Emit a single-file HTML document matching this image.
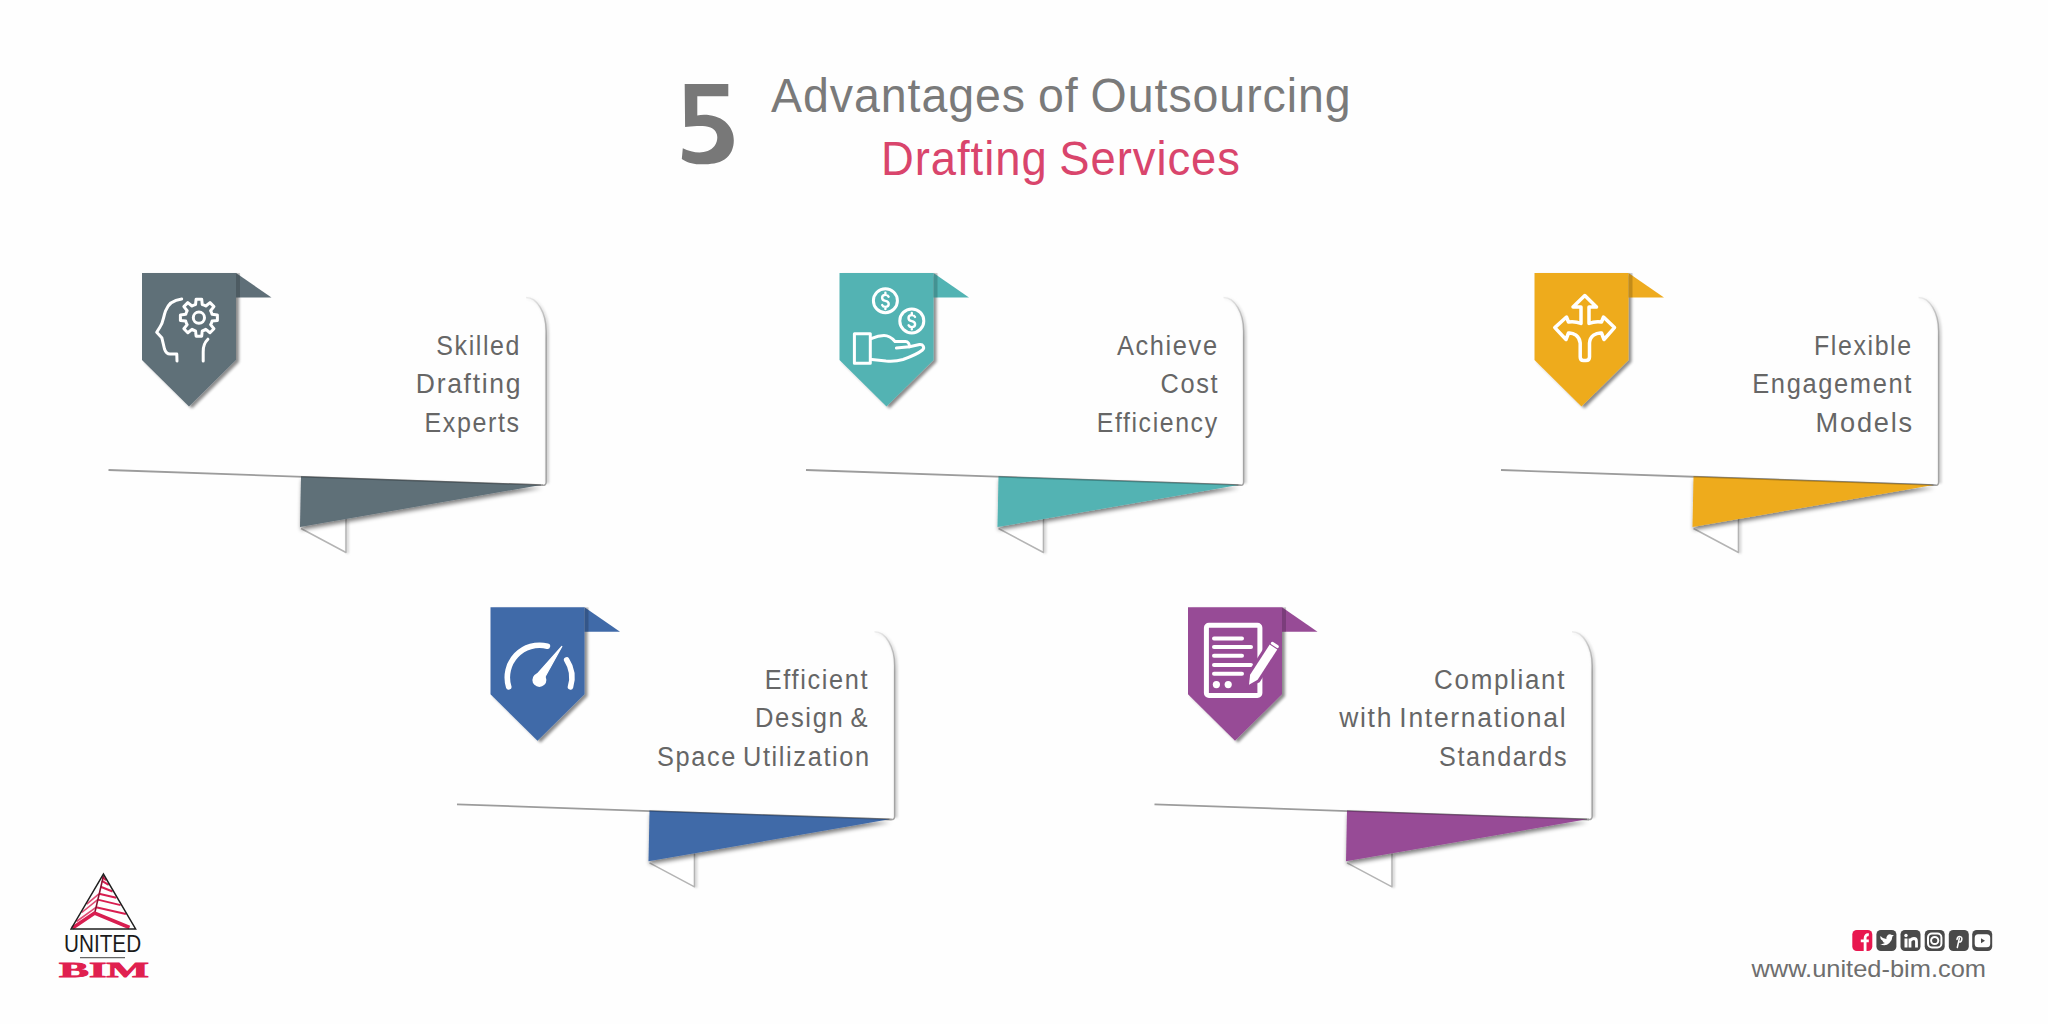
<!DOCTYPE html>
<html><head><meta charset="utf-8"><style>
html,body{margin:0;padding:0;background:#fefefe;width:2048px;height:1024px;overflow:hidden}
svg{display:block}
</style></head><body>
<svg width="2048" height="1024" viewBox="0 0 2048 1024">
<rect width="2048" height="1024" fill="#fefefe"/>
<defs>
<filter id="shadowBR" x="-20%" y="-20%" width="150%" height="150%">
<feGaussianBlur in="SourceAlpha" stdDeviation="1.8"/><feOffset dx="2.5" dy="2.3" result="o"/>
<feComponentTransfer><feFuncA type="linear" slope="0.45"/></feComponentTransfer>
<feMerge><feMergeNode/><feMergeNode in="SourceGraphic"/></feMerge></filter>
<filter id="shadowDown" x="-20%" y="-20%" width="150%" height="180%">
<feGaussianBlur in="SourceAlpha" stdDeviation="2"/><feOffset dx="0.5" dy="3" result="o"/>
<feComponentTransfer><feFuncA type="linear" slope="0.5"/></feComponentTransfer>
<feMerge><feMergeNode/><feMergeNode in="SourceGraphic"/></feMerge></filter>
<filter id="blur1" x="-50%" y="-50%" width="200%" height="200%"><feGaussianBlur stdDeviation="1"/></filter>
<filter id="blurU" filterUnits="userSpaceOnUse" x="-100" y="-100" width="2300" height="1300"><feGaussianBlur stdDeviation="1.1"/></filter>
<linearGradient id="arcGrad" gradientUnits="userSpaceOnUse" x1="524" y1="297" x2="546" y2="338">
<stop offset="0" stop-color="#f0f0f0"/><stop offset="0.45" stop-color="#c4c4c4"/><stop offset="1" stop-color="#a4a4a4"/></linearGradient>
<linearGradient id="haloGrad" gradientUnits="userSpaceOnUse" x1="524" y1="297" x2="546" y2="338">
<stop offset="0" stop-color="#fafafa"/><stop offset="1" stop-color="#cfcfcf"/></linearGradient>
</defs>
<path d="M684.7 84 L728.3 84 L728.3 96.2 L697.3 96.2 L697.3 115.4 C706 113.5 718 115.5 725 121.5 C731.5 127 733.8 134 733.8 140.5 C733.8 148 731 155 724.5 159.5 C718 164 708 164.5 699 164.3 C692 164.2 686 162 681.8 159 L682.8 148.2 C688 150.8 694 152.4 699.5 152.4 C705 152.4 711 150.5 714.5 146 C716.7 143 717.3 139.5 717.3 137.5 C717.3 133 715 129.5 710.5 127.5 C706 125.8 701 125.8 697 126 C692.5 126.3 688.5 126.8 685.1 127.1 Z" fill="#787878"/>
<text transform="translate(771.00,112.00) scale(0.9490,1)" font-family="Liberation Sans" font-size="49" font-weight="normal" letter-spacing="1" word-spacing="-2" fill="#7a7a7a">Advantages of Outsourcing</text>
<text transform="translate(881.01,175.30) scale(0.9463,1)" font-family="Liberation Sans" font-size="48" font-weight="normal" letter-spacing="1" word-spacing="-2" fill="#d9456c">Drafting Services</text>
<g transform="translate(0,0)">
<!-- card body shadows -->
<path d="M108.5 297.5 L526 297.5 C537.2 297.5 546.2 312.5 546.2 331 L546.2 482 Q546.2 485.5 542.5 485.3 L108.5 470 Z" fill="#fefefe"/>
<path d="M527.5 298.5 C538.5 298.5 547.5 313.5 547.5 332 L547.5 483.5" fill="none" stroke="url(#haloGrad)" stroke-width="3.2" filter="url(#blurU)"/>
<path d="M526 297.5 C537.2 297.5 546.2 312.5 546.2 331 L546.2 482 Q546.2 485.5 542.5 485.3" fill="none" stroke="url(#arcGrad)" stroke-width="1.5"/>
<path d="M108.5 470 L543 485.2" fill="none" stroke="#9c9c9c" stroke-width="1.8"/>
<!-- bottom fold -->
<polygon points="301,528.5 346,552.5 346,519" fill="#fff"/>
<path d="M347.5 521 L347.5 553.5" stroke="#d4d4d4" stroke-width="2.6" filter="url(#blurU)"/>
<path d="M301 528.5 L346 552.5 L346 519" fill="none" stroke="#b4b4b4" stroke-width="1.5" stroke-linejoin="round"/>
<polygon points="301,476.5 541,485 300,527" fill="#5f6f78" filter="url(#shadowDown)"/>
<path d="M301 476.8 L541 485" stroke="#000" stroke-opacity="0.25" stroke-width="1.5"/>
<!-- banner -->
<polygon points="142,273 236,273 236,360 189,406.5 142,360" fill="#5f6f78" filter="url(#shadowBR)"/>
<polygon points="236,273 271.5,297.5 236,297.5" fill="#5f6f78"/>
<rect x="236" y="273" width="4" height="24.5" fill="#000" fill-opacity="0.18"/>
</g>
<g stroke="#fff" fill="none" stroke-linecap="round" stroke-linejoin="round" stroke-width="3">
<path d="M181.7 299 C173 300 168 304 165.5 311 C163 318 163.5 322 160 327 L156.7 332.2 L161.8 337.7 L164.5 349 C165.5 352 167 354 170 354 L176.8 354 L177 361"/>
<path d="M207.9 339.2 C204 343 203 348 203.2 352 L203.2 361"/>
<path d="M195.54 304.52 L196.11 299.21 L201.69 299.21 L202.26 304.52 A13.6 13.6 0 0 1 205.84 306.00 L210.00 302.65 L213.95 306.60 L210.60 310.76 A13.6 13.6 0 0 1 212.08 314.34 L217.39 314.91 L217.39 320.49 L212.08 321.06 A13.6 13.6 0 0 1 210.60 324.64 L213.95 328.80 L210.00 332.75 L205.84 329.40 A13.6 13.6 0 0 1 202.26 330.88 L201.69 336.19 L196.11 336.19 L195.54 330.88 A13.6 13.6 0 0 1 191.96 329.40 L187.80 332.75 L183.85 328.80 L187.20 324.64 A13.6 13.6 0 0 1 185.72 321.06 L180.41 320.49 L180.41 314.91 L185.72 314.34 A13.6 13.6 0 0 1 187.20 310.76 L183.85 306.60 L187.80 302.65 L191.96 306.00 A13.6 13.6 0 0 1 195.54 304.52 Z"/>
<circle cx="198.9" cy="317.7" r="5.6"/>
</g>
<text transform="translate(436.31,354.80) scale(0.8923,1)" font-family="Liberation Sans" font-size="28" font-weight="normal" letter-spacing="1.8" word-spacing="-3" fill="#666666">Skilled</text>
<text transform="translate(415.81,392.60) scale(0.9467,1)" font-family="Liberation Sans" font-size="28" font-weight="normal" letter-spacing="1.8" word-spacing="-3" fill="#666666">Drafting</text>
<text transform="translate(424.51,431.70) scale(0.8942,1)" font-family="Liberation Sans" font-size="28" font-weight="normal" letter-spacing="1.8" word-spacing="-3" fill="#666666">Experts</text>
<g transform="translate(697.5,0)">
<!-- card body shadows -->
<path d="M108.5 297.5 L526 297.5 C537.2 297.5 546.2 312.5 546.2 331 L546.2 482 Q546.2 485.5 542.5 485.3 L108.5 470 Z" fill="#fefefe"/>
<path d="M527.5 298.5 C538.5 298.5 547.5 313.5 547.5 332 L547.5 483.5" fill="none" stroke="url(#haloGrad)" stroke-width="3.2" filter="url(#blurU)"/>
<path d="M526 297.5 C537.2 297.5 546.2 312.5 546.2 331 L546.2 482 Q546.2 485.5 542.5 485.3" fill="none" stroke="url(#arcGrad)" stroke-width="1.5"/>
<path d="M108.5 470 L543 485.2" fill="none" stroke="#9c9c9c" stroke-width="1.8"/>
<!-- bottom fold -->
<polygon points="301,528.5 346,552.5 346,519" fill="#fff"/>
<path d="M347.5 521 L347.5 553.5" stroke="#d4d4d4" stroke-width="2.6" filter="url(#blurU)"/>
<path d="M301 528.5 L346 552.5 L346 519" fill="none" stroke="#b4b4b4" stroke-width="1.5" stroke-linejoin="round"/>
<polygon points="301,476.5 541,485 300,527" fill="#52b3b3" filter="url(#shadowDown)"/>
<path d="M301 476.8 L541 485" stroke="#000" stroke-opacity="0.25" stroke-width="1.5"/>
<!-- banner -->
<polygon points="142,273 236,273 236,360 189,406.5 142,360" fill="#52b3b3" filter="url(#shadowBR)"/>
<polygon points="236,273 271.5,297.5 236,297.5" fill="#52b3b3"/>
<rect x="236" y="273" width="4" height="24.5" fill="#000" fill-opacity="0.18"/>
</g>
<g stroke="#fff" fill="none" stroke-linecap="round" stroke-linejoin="round" stroke-width="3">
<circle cx="885.4" cy="300.7" r="12"/>
<circle cx="911.8" cy="320.9" r="12"/>
<rect x="854.4" y="333.8" width="15.9" height="29.5"/>
<path d="M871.8 338.4 C876 336.5 880 335.5 884 335.5 C889 335.5 892 338 895 341.5 L905.5 341.5 C908 341.5 909.5 344 909.5 346.8 L896.4 348.1"/>
<path d="M909.5 346.8 L919.5 344.5 C923 344 925 347.5 922.5 350 C917 354.5 910 357 903 359.5 C898 361 892 361.5 886 361 L871.8 359.5"/>
</g>

<path d="M888.6 296.7 Q887.9 294.9 885.4 294.9 Q882.1 294.9 882.1 297.7 Q882.1 300.3 885.4 300.9 Q888.7 301.5 888.7 304.1 Q888.7 306.9 885.4 306.9 Q882.9 306.9 882.2 305.1 M885.4 292.7 L885.4 294.9 M885.4 306.9 L885.4 309.1" stroke="#fff" stroke-width="2.4" fill="none" stroke-linecap="round"/>
<path d="M915.0 316.9 Q914.3 315.1 911.8 315.1 Q908.5 315.1 908.5 317.9 Q908.5 320.5 911.8 321.1 Q915.1 321.7 915.1 324.3 Q915.1 327.1 911.8 327.1 Q909.3 327.1 908.6 325.3 M911.8 312.9 L911.8 315.1 M911.8 327.1 L911.8 329.3" stroke="#fff" stroke-width="2.4" fill="none" stroke-linecap="round"/>

<text transform="translate(1116.90,354.80) scale(0.9073,1)" font-family="Liberation Sans" font-size="28" font-weight="normal" letter-spacing="1.8" word-spacing="-3" fill="#666666">Achieve</text>
<text transform="translate(1160.49,392.60) scale(0.9065,1)" font-family="Liberation Sans" font-size="28" font-weight="normal" letter-spacing="1.8" word-spacing="-3" fill="#666666">Cost</text>
<text transform="translate(1096.72,431.70) scale(0.8888,1)" font-family="Liberation Sans" font-size="28" font-weight="normal" letter-spacing="1.8" word-spacing="-3" fill="#666666">Efficiency</text>
<g transform="translate(1392.5,0)">
<!-- card body shadows -->
<path d="M108.5 297.5 L526 297.5 C537.2 297.5 546.2 312.5 546.2 331 L546.2 482 Q546.2 485.5 542.5 485.3 L108.5 470 Z" fill="#fefefe"/>
<path d="M527.5 298.5 C538.5 298.5 547.5 313.5 547.5 332 L547.5 483.5" fill="none" stroke="url(#haloGrad)" stroke-width="3.2" filter="url(#blurU)"/>
<path d="M526 297.5 C537.2 297.5 546.2 312.5 546.2 331 L546.2 482 Q546.2 485.5 542.5 485.3" fill="none" stroke="url(#arcGrad)" stroke-width="1.5"/>
<path d="M108.5 470 L543 485.2" fill="none" stroke="#9c9c9c" stroke-width="1.8"/>
<!-- bottom fold -->
<polygon points="301,528.5 346,552.5 346,519" fill="#fff"/>
<path d="M347.5 521 L347.5 553.5" stroke="#d4d4d4" stroke-width="2.6" filter="url(#blurU)"/>
<path d="M301 528.5 L346 552.5 L346 519" fill="none" stroke="#b4b4b4" stroke-width="1.5" stroke-linejoin="round"/>
<polygon points="301,476.5 541,485 300,527" fill="#eeab1f" filter="url(#shadowDown)"/>
<path d="M301 476.8 L541 485" stroke="#000" stroke-opacity="0.25" stroke-width="1.5"/>
<!-- banner -->
<polygon points="142,273 236,273 236,360 189,406.5 142,360" fill="#eeab1f" filter="url(#shadowBR)"/>
<polygon points="236,273 271.5,297.5 236,297.5" fill="#eeab1f"/>
<rect x="236" y="273" width="4" height="24.5" fill="#000" fill-opacity="0.18"/>
</g>
<g transform="translate(1545,285)" stroke="#fff" fill="none" stroke-linecap="round" stroke-linejoin="round" stroke-width="3.5">
<path d="M39.8 10.5 L51.5 22 L44 22 L44 38.5 C47.5 37 52.5 36.5 56.5 37 L58.5 32 L69.5 42.6 L59 54.5 L56.5 48 C51 47.5 45 51 44.5 58 L44.5 72 Q44.5 75.5 41 75.5 L38.5 75.5 Q35.2 75.5 35.2 72 L35.2 58 C34.5 51 28.5 47.5 23.5 48 L21 54.5 L9.8 42.6 L21.5 32 L23.5 37 C27.5 36.5 32.5 37 36 38.5 L36 22 L28 22 Z"/>
</g>
<text transform="translate(1813.92,354.80) scale(0.8915,1)" font-family="Liberation Sans" font-size="28" font-weight="normal" letter-spacing="1.8" word-spacing="-3" fill="#666666">Flexible</text>
<text transform="translate(1752.18,392.60) scale(0.9104,1)" font-family="Liberation Sans" font-size="28" font-weight="normal" letter-spacing="1.8" word-spacing="-3" fill="#666666">Engagement</text>
<text transform="translate(1815.55,431.70) scale(0.9729,1)" font-family="Liberation Sans" font-size="28" font-weight="normal" letter-spacing="1.8" word-spacing="-3" fill="#666666">Models</text>
<g transform="translate(348.5,334.3)">
<!-- card body shadows -->
<path d="M108.5 297.5 L526 297.5 C537.2 297.5 546.2 312.5 546.2 331 L546.2 482 Q546.2 485.5 542.5 485.3 L108.5 470 Z" fill="#fefefe"/>
<path d="M527.5 298.5 C538.5 298.5 547.5 313.5 547.5 332 L547.5 483.5" fill="none" stroke="url(#haloGrad)" stroke-width="3.2" filter="url(#blurU)"/>
<path d="M526 297.5 C537.2 297.5 546.2 312.5 546.2 331 L546.2 482 Q546.2 485.5 542.5 485.3" fill="none" stroke="url(#arcGrad)" stroke-width="1.5"/>
<path d="M108.5 470 L543 485.2" fill="none" stroke="#9c9c9c" stroke-width="1.8"/>
<!-- bottom fold -->
<polygon points="301,528.5 346,552.5 346,519" fill="#fff"/>
<path d="M347.5 521 L347.5 553.5" stroke="#d4d4d4" stroke-width="2.6" filter="url(#blurU)"/>
<path d="M301 528.5 L346 552.5 L346 519" fill="none" stroke="#b4b4b4" stroke-width="1.5" stroke-linejoin="round"/>
<polygon points="301,476.5 541,485 300,527" fill="#406aa8" filter="url(#shadowDown)"/>
<path d="M301 476.8 L541 485" stroke="#000" stroke-opacity="0.25" stroke-width="1.5"/>
<!-- banner -->
<polygon points="142,273 236,273 236,360 189,406.5 142,360" fill="#406aa8" filter="url(#shadowBR)"/>
<polygon points="236,273 271.5,297.5 236,297.5" fill="#406aa8"/>
<rect x="236" y="273" width="4" height="24.5" fill="#000" fill-opacity="0.18"/>
</g>
<g stroke="#fff" fill="none" stroke-linecap="round" stroke-linejoin="round" stroke-width="5.6">
<path d="M508.71 686.94 A32.3 32.3 0 0 1 547.41 646.16"/>
<path d="M566.69 659.91 A32.3 32.3 0 0 1 570.49 686.94"/>
</g>
<circle cx="539.4" cy="679.9" r="7" fill="#fff"/>
<path d="M536 675.5 L561.8 646.5 L543.5 679.5 Z" fill="#fff" stroke="#fff" stroke-width="1.2" stroke-linejoin="round"/>
<text transform="translate(764.79,689.10) scale(0.9054,1)" font-family="Liberation Sans" font-size="28" font-weight="normal" letter-spacing="1.8" word-spacing="-3" fill="#666666">Efficient</text>
<text transform="translate(754.97,726.90) scale(0.9132,1)" font-family="Liberation Sans" font-size="28" font-weight="normal" letter-spacing="1.8" word-spacing="-3" fill="#666666">Design &amp;</text>
<text transform="translate(656.99,766.00) scale(0.9056,1)" font-family="Liberation Sans" font-size="28" font-weight="normal" letter-spacing="1.8" word-spacing="-3" fill="#666666">Space Utilization</text>
<g transform="translate(1046,334.3)">
<!-- card body shadows -->
<path d="M108.5 297.5 L526 297.5 C537.2 297.5 546.2 312.5 546.2 331 L546.2 482 Q546.2 485.5 542.5 485.3 L108.5 470 Z" fill="#fefefe"/>
<path d="M527.5 298.5 C538.5 298.5 547.5 313.5 547.5 332 L547.5 483.5" fill="none" stroke="url(#haloGrad)" stroke-width="3.2" filter="url(#blurU)"/>
<path d="M526 297.5 C537.2 297.5 546.2 312.5 546.2 331 L546.2 482 Q546.2 485.5 542.5 485.3" fill="none" stroke="url(#arcGrad)" stroke-width="1.5"/>
<path d="M108.5 470 L543 485.2" fill="none" stroke="#9c9c9c" stroke-width="1.8"/>
<!-- bottom fold -->
<polygon points="301,528.5 346,552.5 346,519" fill="#fff"/>
<path d="M347.5 521 L347.5 553.5" stroke="#d4d4d4" stroke-width="2.6" filter="url(#blurU)"/>
<path d="M301 528.5 L346 552.5 L346 519" fill="none" stroke="#b4b4b4" stroke-width="1.5" stroke-linejoin="round"/>
<polygon points="301,476.5 541,485 300,527" fill="#974b96" filter="url(#shadowDown)"/>
<path d="M301 476.8 L541 485" stroke="#000" stroke-opacity="0.25" stroke-width="1.5"/>
<!-- banner -->
<polygon points="142,273 236,273 236,360 189,406.5 142,360" fill="#974b96" filter="url(#shadowBR)"/>
<polygon points="236,273 271.5,297.5 236,297.5" fill="#974b96"/>
<rect x="236" y="273" width="4" height="24.5" fill="#000" fill-opacity="0.18"/>
</g>
<g fill="none" stroke="#fff" stroke-width="5">
<rect x="1206.4" y="625.3" width="53.5" height="70.2" rx="2.5"/>
</g>
<g stroke="#fff" stroke-width="4" stroke-linecap="round">
<line x1="1214" y1="638.5" x2="1242" y2="638.5"/>
<line x1="1214" y1="647.1" x2="1251" y2="647.1"/>
<line x1="1214" y1="655.7" x2="1242" y2="655.7"/>
<line x1="1214" y1="665.1" x2="1251" y2="665.1"/>
<line x1="1214" y1="673.7" x2="1242" y2="673.7"/>
</g>
<circle cx="1216.4" cy="684.6" r="3.6" fill="#fff"/><circle cx="1228.2" cy="684.6" r="3.6" fill="#fff"/>
<g transform="translate(1261.5,665.5) rotate(33)">
<path d="M-7.5 -26 L7.5 -26 L7.5 15 L0 27 L-7.5 15 Z" fill="#974b96"/>
<path d="M-4.5 -22 L4.5 -22 L4.5 14 L0 23 L-4.5 14 Z" fill="#fff"/>
<rect x="-4.5" y="-26" width="9" height="3" fill="#fff" rx="1.5"/>
</g>
<text transform="translate(1434.07,689.10) scale(0.9286,1)" font-family="Liberation Sans" font-size="28" font-weight="normal" letter-spacing="1.8" word-spacing="-3" fill="#666666">Compliant</text>
<text transform="translate(1339.20,726.90) scale(0.9462,1)" font-family="Liberation Sans" font-size="28" font-weight="normal" letter-spacing="1.8" word-spacing="-3" fill="#666666">with International</text>
<text transform="translate(1439.00,766.00) scale(0.8979,1)" font-family="Liberation Sans" font-size="28" font-weight="normal" letter-spacing="1.8" word-spacing="-3" fill="#666666">Standards</text>
<g>
<g fill="none" stroke="#d81e50" stroke-linecap="butt">
<path d="M102.8 877.0 L106.0 880.3 M101.9 880.9 L108.7 884.8 M100.6 886.7 L112.6 891.5 M99.0 893.8 L116.3 897.7 M97.7 899.6 L120.6 905.1 M96.0 907.3 L125.9 914.1" stroke-width="2"/>
<path d="M99.0 893.8 L86.7 904.1 M97.7 899.6 L81.8 912.5 M96.0 907.3 L76.5 921.5" stroke-width="1.6" stroke-opacity="0.8"/>
<path d="M103.4 876.1 L94.7 913.1" stroke="#8a1030" stroke-width="1.6"/>
<path d="M72.5 928 L94.7 913.1 L129.5 927.5" stroke-width="3.6" stroke-linejoin="round"/>
</g>
<path d="M103.4 874.1 L71.1 928.9 L135.6 928.9 Z" fill="none" stroke="#1f1f1f" stroke-width="1.5" stroke-linejoin="miter"/>
<text transform="translate(64.12,952.00) scale(0.8996,1)" font-family="Liberation Sans" font-size="23" font-weight="normal" fill="#1a1a1a">UNITED</text>
<line x1="80" y1="957.7" x2="125" y2="957.7" stroke="#666" stroke-width="1.2"/>
<g stroke="#e0204f" stroke-width="0.8"><text transform="translate(59.00,977.40) scale(2.0992,1)" font-family="Liberation Serif" font-size="21.4" font-weight="bold" fill="#e0204f">BIM</text></g>
</g>
<rect x="1852.3" y="930" width="20" height="21" rx="4.5" fill="#e8174f"/>
<rect x="1876.4" y="930" width="20" height="21" rx="4.5" fill="#4a4a4a"/>
<rect x="1900.5" y="930" width="20" height="21" rx="4.5" fill="#4a4a4a"/>
<rect x="1924.7" y="930" width="20" height="21" rx="4.5" fill="#4a4a4a"/>
<rect x="1948.8" y="930" width="20" height="21" rx="4.5" fill="#4a4a4a"/>
<rect x="1972.2" y="930" width="20" height="21" rx="4.5" fill="#4a4a4a"/>
<path d="M1868.8 934.8 Q1865.1 934.2 1865.1 938.5 L1865.1 951 M1860.8 940.8 L1868.8 940.8" stroke="#fff" stroke-width="2.8" fill="none"/>
<path d="M1879.9 944 Q1885.4 947 1889.4 943 Q1892.4 940 1892.4 936.5 L1893.9 935 L1891.9 935 Q1889.4 933.5 1887.4 935.5 Q1885.9 937 1886.4 939 Q1882.9 939 1880.4 936 Q1879.9 939 1882.4 940.5 Q1882.9 942.5 1884.9 943 Q1882.4 944.5 1879.9 944 Z" fill="#fff"/>
<rect x="1904.5" y="938.5" width="3" height="9" fill="#fff"/><circle cx="1906.0" cy="935.5" r="1.7" fill="#fff"/><path d="M1910.0 947.5 L1910.0 938.5 M1910.0 941 Q1911.5 938.5 1914.0 938.5 Q1916.5 938.5 1916.5 941.5 L1916.5 947.5" stroke="#fff" stroke-width="2.8" fill="none"/>
<rect x="1928.0" y="933.5" width="13.4" height="14" rx="4" stroke="#fff" stroke-width="2" fill="none"/><circle cx="1934.7" cy="940.5" r="3.6" stroke="#fff" stroke-width="2" fill="none"/>
<path d="M1957.0 939.5 Q1957.3 936.5 1959.6 936.5 Q1962.3 936.8 1961.8 939.5 Q1961.3 942.5 1958.8 942 M1959.3 938.5 L1957.3 947.5" stroke="#fff" stroke-width="1.5" fill="none" stroke-linecap="round"/>
<rect x="1974.7" y="934.3" width="15.5" height="13" rx="3.5" fill="#fff"/><path d="M1981.0 938.3 L1985.0 940.8 L1981.0 943.3 Z" fill="#4a4a4a"/>
<text transform="translate(1751.40,976.50) scale(1.0601,1)" font-family="Liberation Sans" font-size="24" font-weight="normal" fill="#6e6e6e">www.united-bim.com</text>
</svg></body></html>
